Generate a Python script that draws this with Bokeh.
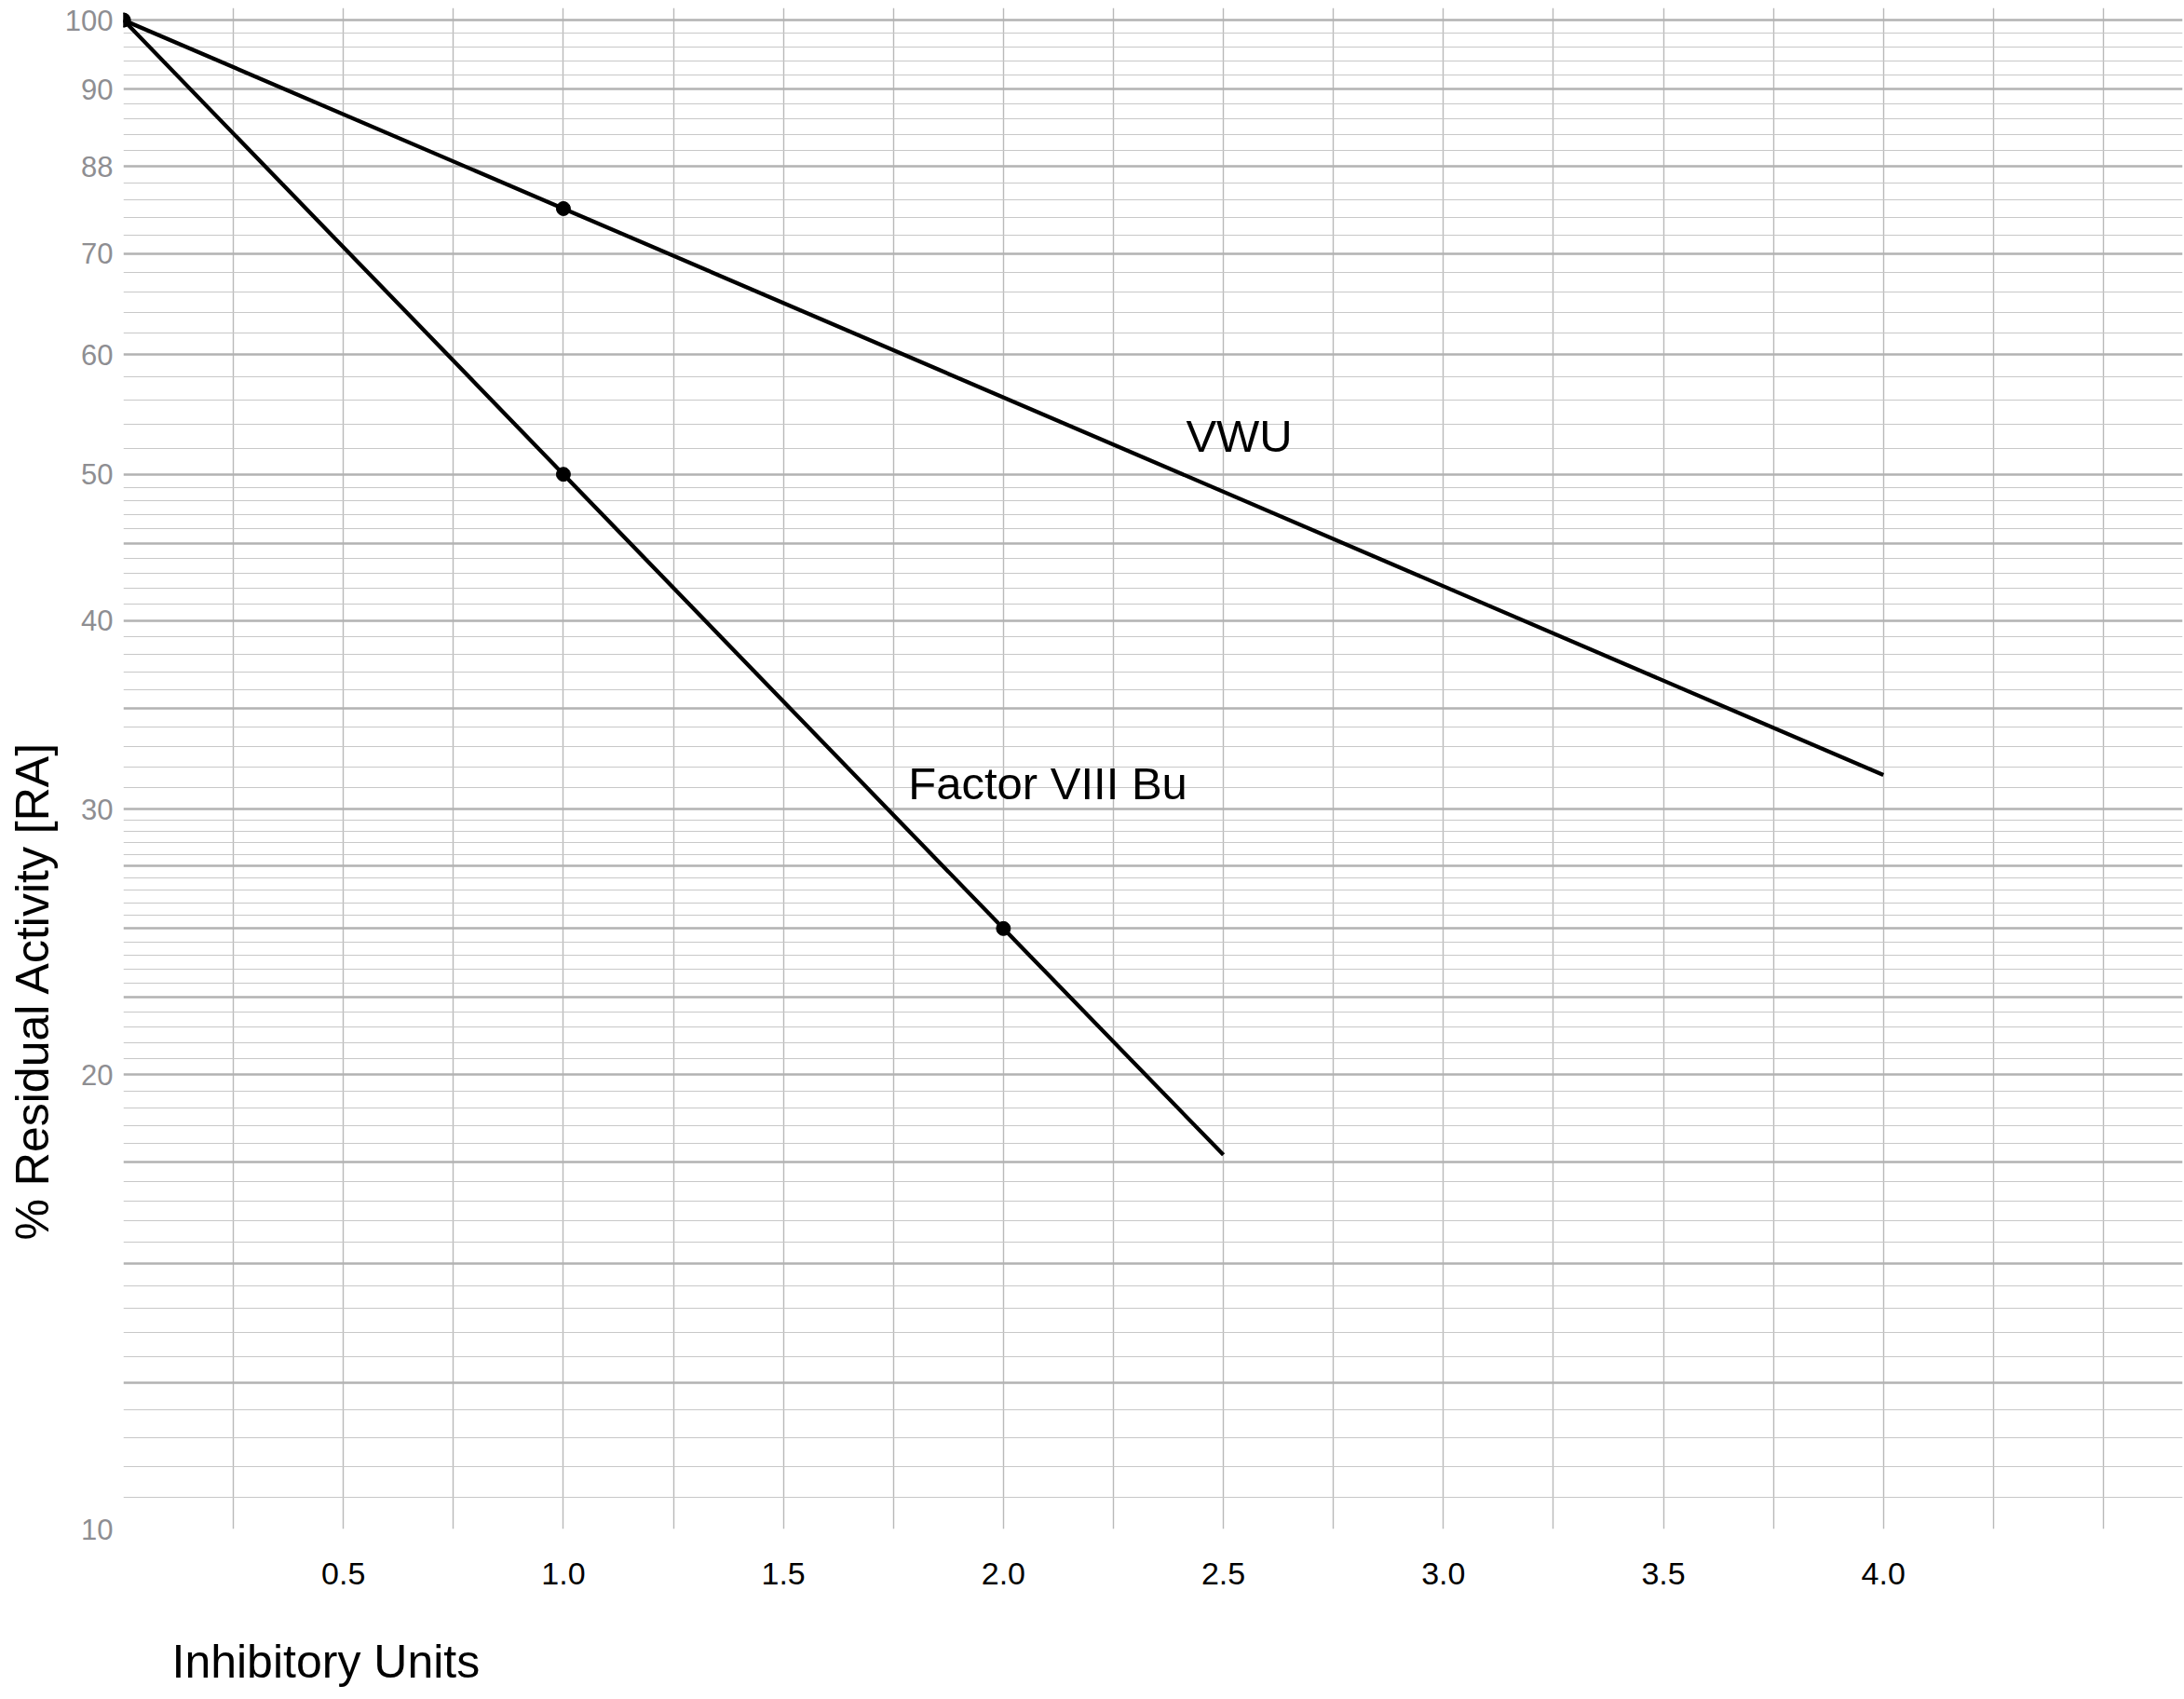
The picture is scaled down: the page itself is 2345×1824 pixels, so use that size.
from bokeh.plotting import figure
from bokeh.models import Range1d, FixedTicker, Label, Title
from bokeh.embed import file_html
from bokeh.resources import INLINE

# ---- data ----
vwu_x = [0.0, 1.0, 4.0]
vwu_y = [100.0, 75.0, 31.6]
vwu_pts_x = [0.0, 1.0]
vwu_pts_y = [100.0, 75.0]

f8_x = [0.0, 1.0, 2.0, 2.5]
f8_y = [100.0, 50.0, 25.0, 17.7]
f8_pts_x = [0.0, 1.0, 2.0]
f8_pts_y = [100.0, 50.0, 25.0]

x_ticks = [0.5, 1.0, 1.5, 2.0, 2.5, 3.0, 3.5, 4.0]
x_tick_labels = ["0.5", "1.0", "1.5", "2.0", "2.5", "3.0", "3.5", "4.0"]
y_ticks = [10, 20, 30, 40, 50, 60, 70, 80, 90, 100]
y_tick_labels = ["10", "20", "30", "40", "50", "60", "70", "88", "90", "100"]
y_major_grid = [10, 12.5, 15, 17.5, 20, 22.5, 25, 27.5, 30, 35, 40, 45, 50, 60, 70, 80, 90, 100]
x_grid = [0, 0.25, 0.5, 0.75, 1.0, 1.25, 1.5, 1.75, 2.0, 2.25, 2.5, 2.75, 3.0, 3.25, 3.5, 3.75, 4.0, 4.25, 4.5]

x_title = "Inhibitory Units"
y_title = "% Residual Activity [RA]"

# minor grid: 5 equal subdivisions of each major interval
y_minor_grid = []
for a, b in zip(y_major_grid[:-1], y_major_grid[1:]):
    for k in range(1, 5):
        y_minor_grid.append(a + (b - a) * k / 5)

FONT = "Liberation Sans"

p = figure(width=2345, height=1824, output_backend="svg", toolbar_location=None,
           x_range=Range1d(0, 4.680), y_range=Range1d(10, 101.87), y_axis_type="log",
           min_border_left=132, min_border_right=2, min_border_top=8, min_border_bottom=183)
p.outline_line_color = None
p.background_fill_color = "white"

# grids
p.xgrid[0].ticker = FixedTicker(ticks=x_grid)
p.xgrid[0].grid_line_color = "#b9b9b9"
p.xgrid[0].grid_line_width = 1.4

p.ygrid[0].ticker = FixedTicker(ticks=y_major_grid, minor_ticks=y_minor_grid)
p.ygrid[0].grid_line_color = "#b3b3b3"
p.ygrid[0].grid_line_width = 2.4
p.ygrid[0].minor_grid_line_color = "#c8c8c8"
p.ygrid[0].minor_grid_line_width = 1.1

# x axis
p.xaxis.ticker = FixedTicker(ticks=x_ticks)
p.xaxis.major_label_overrides = {t: l for t, l in zip(x_ticks, x_tick_labels)}
p.xaxis.axis_line_color = None
p.xaxis.major_tick_line_color = None
p.xaxis.minor_tick_line_color = None
p.xaxis.major_label_standoff = 30
p.xaxis.major_label_text_font = FONT
p.xaxis.major_label_text_font_size = "34px"
p.xaxis.major_label_text_color = "black"
# blank spacer label to push the axis title down
p.xaxis.axis_label = " "
p.xaxis.axis_label_text_font_size = "20px"
p.xaxis.axis_label_standoff = 12
p.xaxis.axis_label_text_color = "white"

# y axis
p.yaxis.ticker = FixedTicker(ticks=y_ticks)
p.yaxis.major_label_overrides = {t: l for t, l in zip(y_ticks, y_tick_labels)}
p.yaxis.axis_line_color = None
p.yaxis.major_tick_line_color = None
p.yaxis.minor_tick_line_color = None
p.yaxis.major_tick_out = 0
p.yaxis.minor_tick_out = 0
p.yaxis.major_label_standoff = 11
p.yaxis.major_label_text_font = FONT
p.yaxis.major_label_text_font_size = "31px"
p.yaxis.major_label_text_color = "#8e8e92"

# axis titles as side-panel titles
p.add_layout(Title(text=x_title, align="left", offset=52, standoff=26,
                   text_font=FONT, text_font_size="50px", text_font_style="normal",
                   text_color="black"), "below")
p.add_layout(Title(text=y_title, align="left", offset=310, standoff=8,
                   text_font=FONT, text_font_size="50px", text_font_style="normal",
                   text_color="black"), "left")

# lines and points
p.line(vwu_x, vwu_y, line_color="black", line_width=4.3)
p.line(f8_x, f8_y, line_color="black", line_width=4.3)
p.scatter(vwu_pts_x, vwu_pts_y, size=15, color="black")
p.scatter(f8_pts_x, f8_pts_y, size=15, color="black")

# series labels
p.add_layout(Label(x=2.415, y=53.0, text="VWU", text_font=FONT, text_font_size="49px",
                   text_color="black", text_align="left", text_baseline="alphabetic"))
p.add_layout(Label(x=1.784, y=31.2, text="Factor VIII Bu", text_font=FONT, text_font_size="49px",
                   text_color="black", text_align="left", text_baseline="alphabetic"))

open("out.html", "w").write(file_html(p, INLINE))
